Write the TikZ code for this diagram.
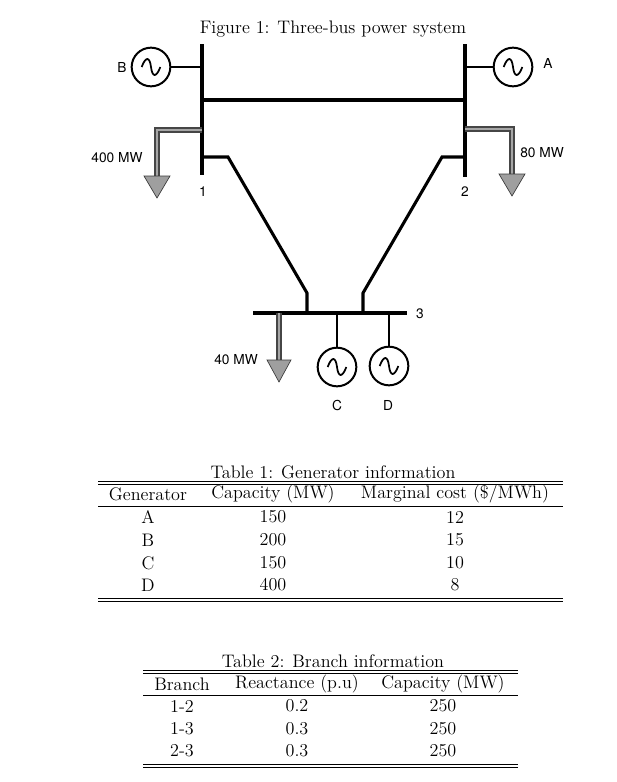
\documentclass[tikz,border=0pt]{standalone}
\usepackage{fontspec}
\newfontfamily\hv{TeX Gyre Heros}
\begin{document}
\begin{tikzpicture}[x=0.75pt,y=-0.75pt,
  bus/.style={line width=3.6pt},
  wire/.style={line width=2.3pt},
  thin/.style={line width=1.3pt},
  gen/.style={circle,draw,line width=1.5pt,minimum size=29pt,inner sep=0pt},
  lbl/.style={font=\hv\fontsize{10.3}{12}\selectfont},
  load/.style={draw=gray!55!black,line width=3.8pt},
  loadin/.style={draw=gray!70,line width=1.6pt},
  tri/.style={fill=gray!75,draw=gray!45!black,line width=0.5pt},
  txt/.style={font=\fontsize{13.6}{15}\selectfont,inner sep=0pt},
  rule/.style={line width=0.6pt}]
\useasboundingbox (0,0) rectangle (617,782);
\node[txt] (title) at (333,29) {Figure 1: Three-bus power system};
% buses
\draw[bus] (202,44) coordinate (b1t) -- (202,175) coordinate (b1b);
\draw[bus] (465,44) coordinate (b2t) -- (465,177) coordinate (b2b);
\draw[bus] (253,313) coordinate (b3l) -- (407,313) coordinate (b3r);
\node[lbl] (n1) at (203,192) {1};
\node[lbl] (n2) at (465,192) {2};
\node[lbl] (n3) at (420,314) {3};
% generators
\node[gen] (gB) at (151,67) {};
\node[gen] (gA) at (513,67) {};
\node[gen] (gC) at (337,367) {};
\node[gen] (gD) at (389,366) {};
\foreach \g in {gA,gB,gC,gD}{
  \draw[thin] ([xshift=-7pt]\g.center) .. controls ([xshift=-4pt,yshift=8pt]\g.center) and ([xshift=-1pt,yshift=8pt]\g.center) .. (\g.center) .. controls ([xshift=1pt,yshift=-8pt]\g.center) and ([xshift=4pt,yshift=-8pt]\g.center) .. ([xshift=7pt]\g.center);}
\draw[thin] (gB.east) -- (202,67);
\draw[thin] (gA.west) -- (465,67);
\draw[thin] (gC.north) -- (337,313);
\draw[thin] (gD.north) -- (389,313);
\node[lbl] (lB) at (122,67) {B};
\node[lbl] (lA) at (548,63) {A};
\node[lbl] (lC) at (337,405) {C};
\node[lbl] (lD) at (388,405) {D};
% lines
\draw[wire] (202,100) -- (465,100);
\draw[wire] (202,157) -- (228,157) -- (307,293) -- (307,313);
\draw[wire] (465,157) -- (442,157) -- (363,293) -- (363,313);
% loads
\draw[load] (202,130) -- (157,130) -- (157,176);
\draw[loadin] (202,130) -- (157,130) -- (157,176);
\draw[tri] (144,176) -- (170,176) -- (157,198) -- cycle;
\draw[load] (465,129) -- (512,129) -- (512,174);
\draw[loadin] (465,129) -- (512,129) -- (512,174);
\draw[tri] (499,174) -- (525,174) -- (512,196) -- cycle;
\draw[load] (279,313) -- (279,360);
\draw[loadin] (279,313) -- (279,360);
\draw[tri] (267,360) -- (291,360) -- (279,382) -- cycle;
\node[lbl] (l1) at (117,158) {400 MW};
\node[lbl] (l2) at (542,153) {80 MW};
\node[lbl] (l3) at (236,360) {40 MW};
% Table 1
\node[txt] (t1c) at (333,472) {Table 1: Generator information};
\draw[rule] (98,481) -- (563,481); \draw[rule] (98,484) -- (563,484);
\node[txt] (h11) at (148,494) {Generator};
\node[txt] (h12) at (273,494) {Capacity (MW)};
\node[txt] (h13) at (455,494) {Marginal cost (\$/MWh)};
\draw[rule] (98,506) -- (563,506);
\foreach \y/\a/\b/\c in {517/A/150/12,540/B/200/15,563/C/150/10,585/D/400/8}{
  \node[txt] at (148,\y) {\a}; \node[txt] at (273,\y) {\b}; \node[txt] at (455,\y) {\c};}
\draw[rule] (98,598) -- (563,598); \draw[rule] (98,601) -- (563,601);
% Table 2
\node[txt] (t2c) at (333,661) {Table 2: Branch information};
\draw[rule] (143,670) -- (518,670); \draw[rule] (143,673) -- (518,673);
\node[txt] (h21) at (182,684) {Branch};
\node[txt] (h22) at (297,684) {Reactance (p.u)};
\node[txt] (h23) at (443,684) {Capacity (MW)};
\draw[rule] (143,695) -- (518,695);
\foreach \y/\a/\b/\c in {706/1-2/0.2/250,729/1-3/0.3/250,751/2-3/0.3/250}{
  \node[txt] at (182,\y) {\a}; \node[txt] at (297,\y) {\b}; \node[txt] at (443,\y) {\c};}
\draw[rule] (143,764) -- (518,764); \draw[rule] (143,767) -- (518,767);
\end{tikzpicture}
\end{document}
